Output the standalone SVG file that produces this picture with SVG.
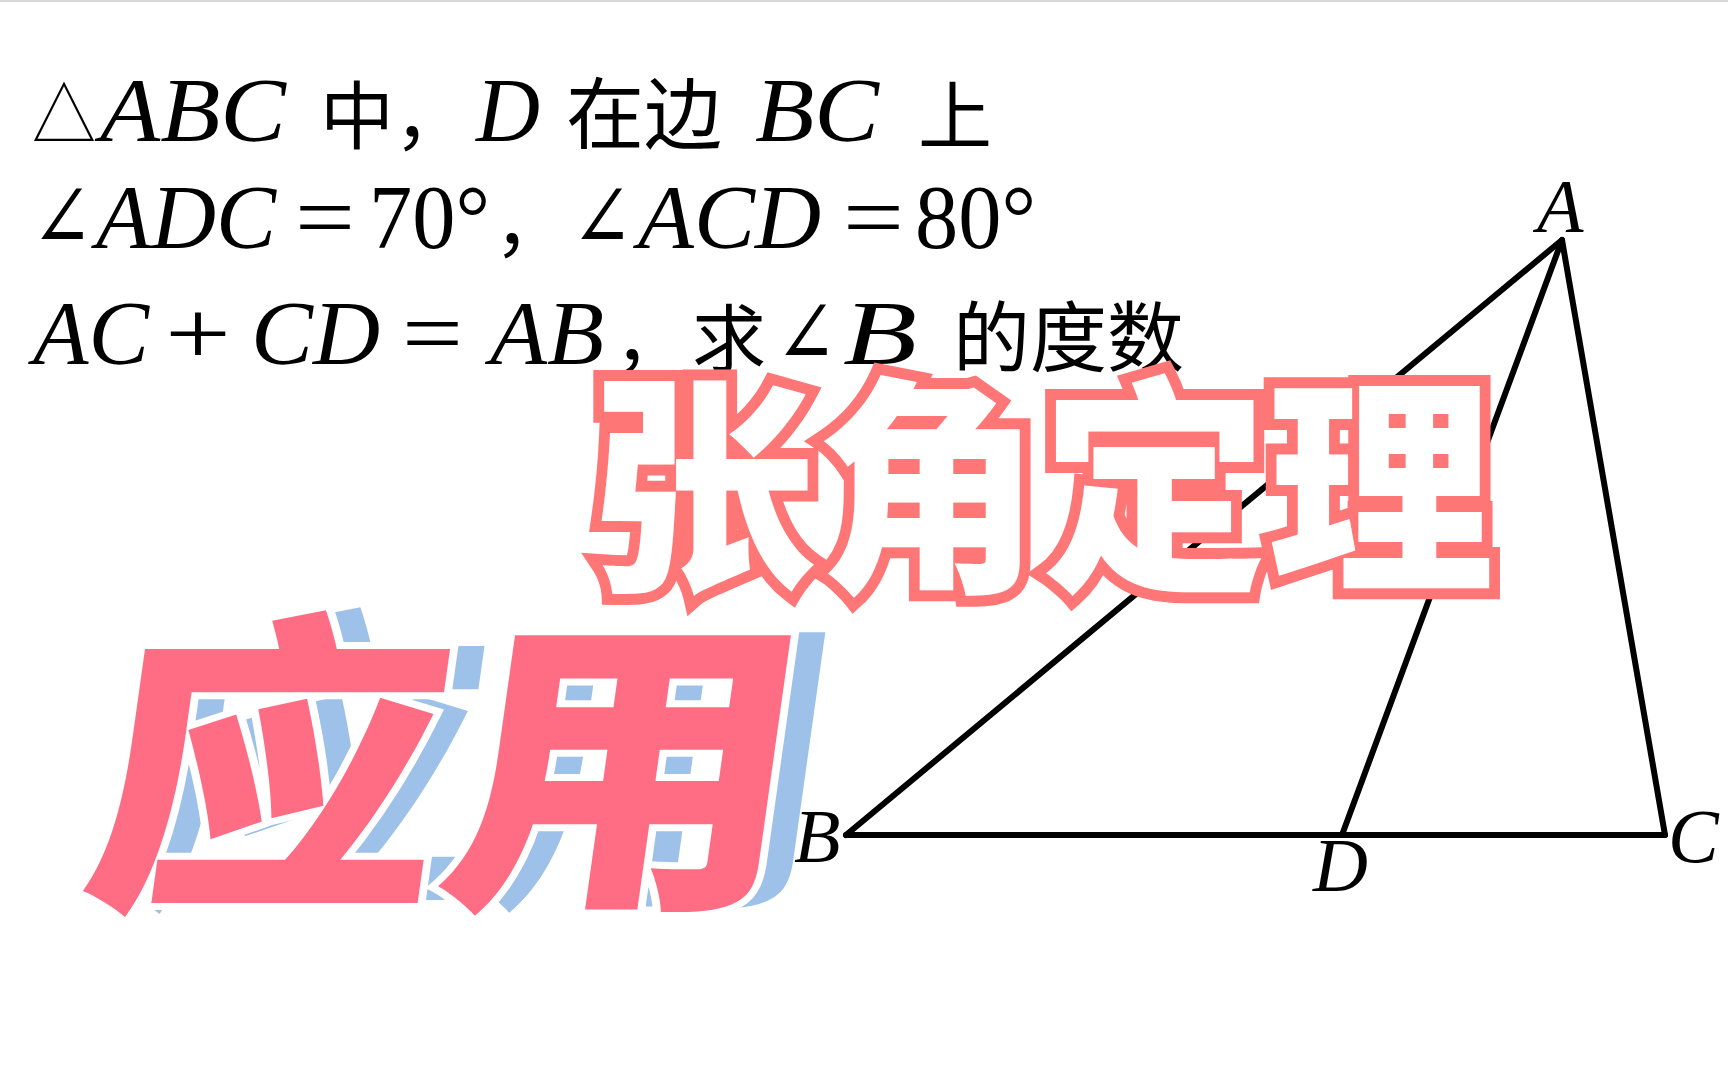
<svg xmlns="http://www.w3.org/2000/svg" width="1728" height="1080" viewBox="0 0 1728 1080">
  <style>
    .m { font-family: "Liberation Serif", "DejaVu Serif", serif; font-size: 90px; fill: #000; }
    .mi { font-style: italic; }
    .cj { font-family: "Noto Sans CJK SC", sans-serif; font-size: 74px; fill: #000; font-weight: 400; }
    .edge { stroke: #000; stroke-width: 6; stroke-linecap: round; fill: none; }
    .lbl { font-family: "Liberation Serif", "DejaVu Serif", serif; font-style: italic; font-size: 76px; fill: #000; }
    .title { font-family: "Noto Sans CJK SC", sans-serif; font-weight: 900; }
  </style>
  <rect x="0" y="0" width="1728" height="1080" fill="#ffffff"/>
  <rect x="0" y="0" width="1728" height="2" fill="#d8d8d8"/>

  <g id="problem-text">
    <g id="line1">
      <text x="32" y="141" font-family="Noto Sans CJK SC, sans-serif" font-size="72" font-weight="300" fill="#000" textLength="64" lengthAdjust="spacingAndGlyphs">△</text>
      <text class="m mi" x="100" y="141" textLength="186" lengthAdjust="spacingAndGlyphs">ABC</text>
      <text class="cj" x="320" y="143">中，</text>
      <text class="m mi" x="476" y="141" textLength="64" lengthAdjust="spacingAndGlyphs">D</text>
      <text class="cj" x="566" y="143" style="font-size:78px">在边</text>
      <text class="m mi" x="755" y="141" textLength="124" lengthAdjust="spacingAndGlyphs">BC</text>
      <text class="cj" x="918" y="143">上</text>
    </g>
    <g id="line2">
      <text class="m" x="31" y="248" font-size="100" textLength="62" lengthAdjust="spacingAndGlyphs">∠</text>
      <text class="m mi" x="96" y="248" textLength="180" lengthAdjust="spacingAndGlyphs">ADC</text>
      <text class="m" x="295" y="248" textLength="60" lengthAdjust="spacingAndGlyphs">=</text>
      <text class="m" x="369" y="248" textLength="121" lengthAdjust="spacingAndGlyphs">70°</text>
      <text class="cj" x="494" y="250">，</text>
      <text class="m" x="571" y="248" font-size="100" textLength="62" lengthAdjust="spacingAndGlyphs">∠</text>
      <text class="m mi" x="638" y="248" textLength="183" lengthAdjust="spacingAndGlyphs">ACD</text>
      <text class="m" x="843" y="248" textLength="61" lengthAdjust="spacingAndGlyphs">=</text>
      <text class="m" x="915" y="248" textLength="121" lengthAdjust="spacingAndGlyphs">80°</text>
    </g>
    <g id="line3">
      <text class="m mi" x="33" y="364" textLength="116" lengthAdjust="spacingAndGlyphs">AC</text>
      <text class="m" x="165" y="364" textLength="66" lengthAdjust="spacingAndGlyphs">+</text>
      <text class="m mi" x="251" y="364" textLength="129" lengthAdjust="spacingAndGlyphs">CD</text>
      <text class="m" x="402" y="364" textLength="61" lengthAdjust="spacingAndGlyphs">=</text>
      <text class="m mi" x="490" y="364" textLength="114" lengthAdjust="spacingAndGlyphs">AB</text>
      <text class="cj" x="614" y="366">，</text>
      <text class="cj" x="692" y="366">求</text>
      <text class="m" x="775" y="364" font-size="100" textLength="62" lengthAdjust="spacingAndGlyphs">∠</text>
      <text class="m mi" x="843" y="364" textLength="74" lengthAdjust="spacingAndGlyphs">B</text>
      <text class="cj" x="953" y="366" style="font-size:77px">的度数</text>
    </g>
  </g>

  <g id="connectors">
    <line id="AB" class="edge" x1="1562" y1="240" x2="846" y2="835"/>
    <line id="AD" class="edge" x1="1562" y1="240" x2="1342" y2="835"/>
    <line id="AC" class="edge" x1="1562" y1="240" x2="1665" y2="835"/>
    <line id="BC" class="edge" x1="846" y1="835" x2="1665" y2="835"/>
  </g>

  <g id="title-zhangjiao">
    <text class="title" x="589" y="573" font-size="230" fill="#ffffff" stroke="#ff7676" stroke-width="22" stroke-linejoin="miter" paint-order="stroke" textLength="905" lengthAdjust="spacingAndGlyphs">张角定理</text>
  </g>

  <g id="title-yingyong">
    <g transform="translate(76,884) skewX(-8)">
      <text class="title" x="34" y="-3" font-size="315" fill="#9dc1e8" stroke="#ffffff" stroke-width="14" stroke-linejoin="miter" paint-order="stroke" textLength="712" lengthAdjust="spacingAndGlyphs">应用</text>
      <text class="title" x="0" y="0" font-size="315" fill="#ff6d84" stroke="#ffffff" stroke-width="14" stroke-linejoin="miter" paint-order="stroke" textLength="712" lengthAdjust="spacingAndGlyphs">应用</text>
    </g>
  </g>

  <g id="node-A"><text class="lbl" x="1537" y="232">A</text></g>
  <g id="node-B"><text class="lbl" x="794" y="862">B</text></g>
  <g id="node-C"><text class="lbl" x="1668" y="862">C</text></g>
  <g id="node-D"><text class="lbl" x="1313" y="891">D</text></g>
</svg>
